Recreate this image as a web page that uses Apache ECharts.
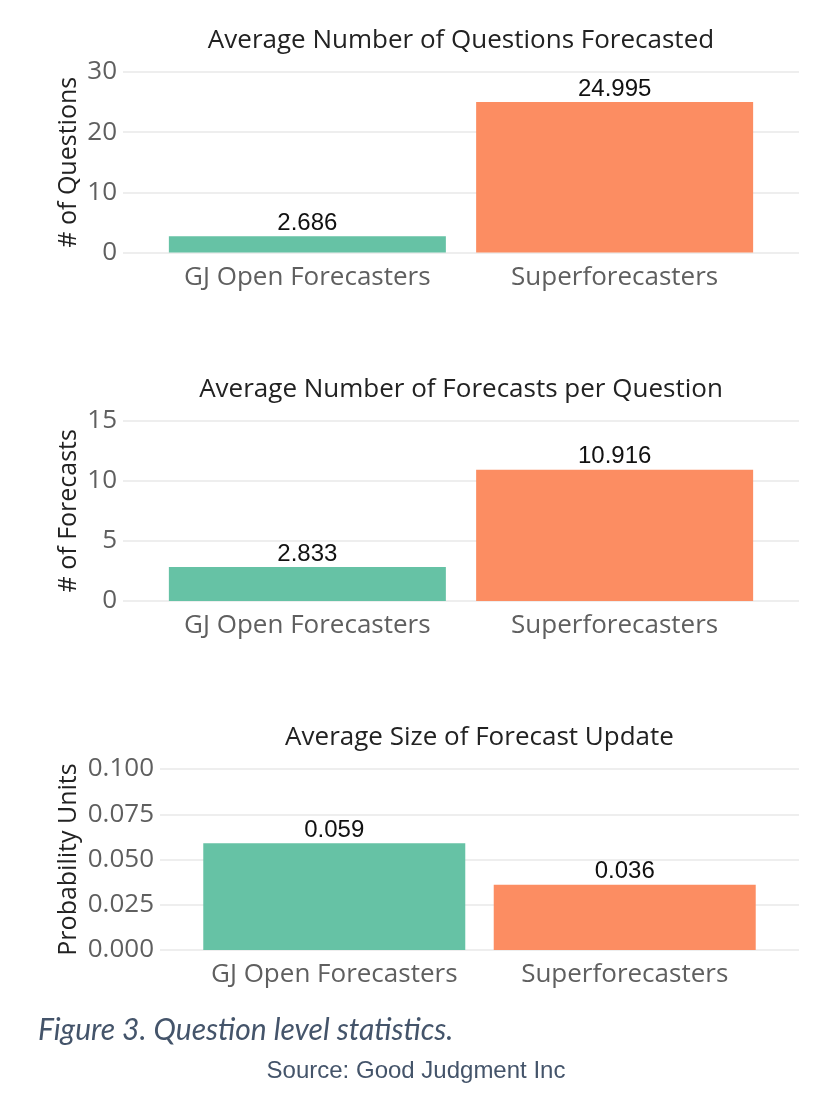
<!DOCTYPE html>
<html>
<head>
<meta charset="utf-8">
<script src="https://cdn.jsdelivr.net/npm/echarts@6/dist/echarts.min.js"></script>
<style>
html,body{margin:0;padding:0;background:#fff;}
#main{width:830px;height:1098px;}
</style>
</head>
<body>
<div id="main"></div>
<script>
// ---- data ----
var categories = ['GJ Open Forecasters', 'Superforecasters'];
var questionsForecasted = [2.686, 24.995];
var forecastsPerQuestion = [2.833, 10.916];
var updateSize = [0.059, 0.036];
var chartTitles = ['Average Number of Questions Forecasted', 'Average Number of Forecasts per Question', 'Average Size of Forecast Update'];
var yNames = ['# of Questions', '# of Forecasts', 'Probability Units'];
var yTicks1 = [0, 10, 20, 30];
var yTicks2 = [0, 5, 10, 15];
var yTicks3 = [0, 0.025, 0.05, 0.075, 0.1];
var caption = 'Figure 3. Question level statistics.';
var source = 'Source: Good Judgment Inc';

var colors = ['#66c2a5', '#fc8d62'];
var chart = echarts.init(document.getElementById('main'), null, {renderer: 'canvas'});

var grids = [
  {left: 123, right: 31, top: 72, height: 180.5},
  {left: 123, right: 31, top: 420.5, height: 180.5},
  {left: 160, right: 31, top: 769, height: 181}
];
var yTickSets = [yTicks1, yTicks2, yTicks3];
var seriesData = [questionsForecasted, forecastsPerQuestion, updateSize];
var barWidths = [277, 277, 262];
var nameGaps = [42, 42, 79];

var xAxes = [], yAxes = [], series = [], graphics = [];
for (var i = 0; i < 3; i++) {
  var ticks = yTickSets[i];
  var step = ticks[1] - ticks[0];
  xAxes.push({
    gridIndex: i, type: 'value', min: -0.6, max: 1.6,
    axisLine: {show: false}, axisTick: {show: false}, splitLine: {show: false},
    axisLabel: {
      customValues: [0, 1],
      formatter: function (v) { return categories[Math.round(v)] || ''; },
      fontFamily: 'Open Sans', fontSize: 26, color: '#5f5f5f', margin: 12
    }
  });
  yAxes.push({
    gridIndex: i, type: 'value', min: ticks[0], max: ticks[ticks.length - 1], interval: step,
    name: yNames[i], nameLocation: 'middle', nameGap: nameGaps[i], nameRotate: 90,
    nameMoveOverlap: false,
    nameTextStyle: {fontFamily: 'Open Sans', fontSize: 25, color: '#222'},
    axisLine: {show: false}, axisTick: {show: false},
    splitLine: {lineStyle: {color: '#e8e8e8', width: 1.5}},
    axisLabel: {
      fontFamily: 'Open Sans', fontSize: 26, color: '#5f5f5f', margin: 6,
      formatter: (function (idx) {
        return function (v) { return idx === 2 ? v.toFixed(3) : String(v); };
      })(i)
    }
  });
  series.push({
    type: 'bar', xAxisIndex: i, yAxisIndex: i, barWidth: barWidths[i],
    data: seriesData[i].map(function (v, k) {
      return {value: [k, v], itemStyle: {color: colors[k]}};
    }),
    label: {
      show: true, position: 'top', distance: 1,
      fontFamily: 'Liberation Sans', fontSize: 24, color: '#111',
      formatter: function (p) { return p.value[1].toFixed(3); }
    },
    emphasis: {disabled: true}, animation: false
  });
  var g = grids[i];
  graphics.push({
    type: 'text',
    x: g.left + (830 - g.left - g.right) / 2, y: g.top - 31,
    style: {text: chartTitles[i], fontFamily: 'Open Sans', fontSize: 26, fill: '#222',
      textAlign: 'center', textVerticalAlign: 'middle'}
  });
}
graphics.push({
  type: 'text', x: 38, y: 1030,
  style: {text: caption, fontFamily: 'Lato', fontStyle: 'italic', fontSize: 30, fill: '#44546a',
    textAlign: 'left', textVerticalAlign: 'middle'}
});
graphics.push({
  type: 'text', x: 416, y: 1071,
  style: {text: source, fontFamily: 'Liberation Sans', fontSize: 24, fill: '#44546a',
    textAlign: 'center', textVerticalAlign: 'middle'}
});

chart.setOption({
  animation: false,
  grid: grids,
  xAxis: xAxes,
  yAxis: yAxes,
  series: series,
  graphic: graphics
});
</script>
</body>
</html>
